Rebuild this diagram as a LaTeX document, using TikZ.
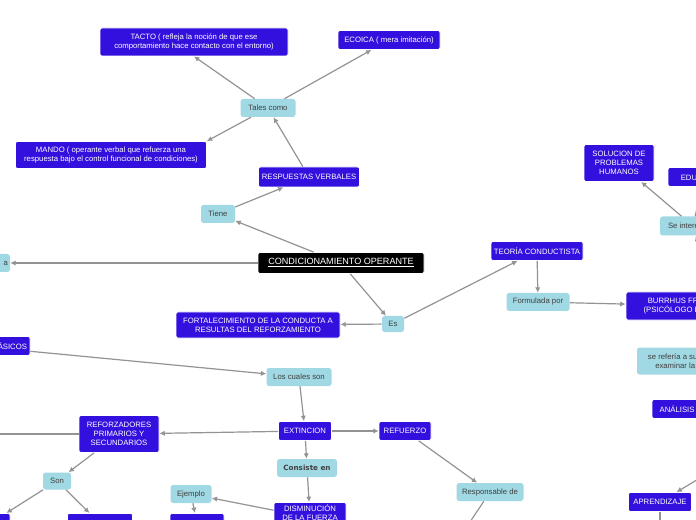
\documentclass[tikz,border=0pt]{standalone}
\usepackage{fontspec}
\setmainfont{Liberation Sans}
\newfontfamily\dvs{DejaVu Sans}
\begin{document}
\begin{tikzpicture}[x=0.75pt,y=-0.75pt,
  dk/.style={draw=white,line width=0.6pt,fill=dkc,text=white,rounded corners=1.5pt,inner sep=0pt,align=center,font=\fontsize{5.8}{6.8}\selectfont},
  lt/.style={fill=ltc,text=black!75,rounded corners=2pt,inner sep=0pt,align=center,font=\fontsize{5.8}{6.8}\selectfont},
  ed/.style={draw=gray!85,line width=0.9pt,-{Latex[length=4pt,width=4pt]}},
  pl/.style={draw=gray!85,line width=0.9pt}]
\usetikzlibrary{arrows.meta}
\definecolor{dkc}{HTML}{3310DD}
\definecolor{ltc}{HTML}{A0D8E3}
\def\u{0.75pt}
\useasboundingbox (0,0) rectangle (696,520);
\clip (0,0) rectangle (696,520);
\fill[white] (0,0) rectangle (696,520);
% nodes
\node[dk,minimum width=188*\u,minimum height=28*\u] (tacto) at (194,42) {TACTO ( refleja la noción de que ese\\comportamiento hace contacto con el entorno)};
\node[dk,minimum width=102*\u,minimum height=19*\u] (ecoica) at (389,40) {ECOICA ( mera imitación)};
\node[lt,minimum width=55*\u,minimum height=18*\u] (tales) at (268,108) {Tales como};
\node[dk,minimum width=191*\u,minimum height=27*\u] (mando) at (111,155) {MANDO ( operante verbal que refuerza una\\respuesta bajo el control funcional de condiciones)};
\node[dk,minimum width=101*\u,minimum height=20*\u] (resp) at (309,177) {RESPUESTAS VERBALES};
\node[lt,minimum width=34*\u,minimum height=18*\u] (tiene) at (218,214) {Tiene};
\node[draw=white,line width=0.6pt,fill=black,text=white,rounded corners=1.5pt,minimum width=166*\u,minimum height=21*\u,inner sep=0pt,font=\fontsize{6.8}{8}\selectfont] (cond) at (341,263) {\underline{CONDICIONAMIENTO OPERANTE}};
\node[lt,minimum width=70*\u,minimum height=18*\u,text width=66*\u,align=right] (leftA) at (-25,263) {a};
\node[dk,minimum width=92*\u,minimum height=19*\u] (teoria) at (537,251) {TEORÍA CONDUCTISTA};
\node[lt,minimum width=63*\u,minimum height=18*\u] (form) at (538,302) {Formulada por};
\node[dk,minimum width=160*\u,minimum height=28*\u] (burr) at (706,306) {BURRHUS FREDERIC SKINNER\\(PSICÓLOGO ESTADOUNIDENSE)};
\node[dk,minimum width=70*\u,minimum height=37*\u] (sol) at (619,163) {SOLUCION DE\\PROBLEMAS\\HUMANOS};
\node[dk,minimum width=72*\u,minimum height=19*\u] (educ) at (704,177) {EDUCACIÓN};
\node[lt,minimum width=66*\u,minimum height=19*\u] (seint) at (693,226) {Se interesó en};
\node[lt,minimum width=110*\u,minimum height=27*\u] (seref) at (692,361) {se refería a su método de\\examinar la conducta};
\node[dk,minimum width=120*\u,minimum height=19*\u] (anal) at (712,409) {ANÁLISIS DE LA CONDUCTA};
\node[dk,minimum width=63*\u,minimum height=19*\u] (apr) at (660,502) {APRENDIZAJE};
\node[dk,minimum width=164*\u,minimum height=26*\u] (fort) at (258,325) {FORTALECIMIENTO DE LA CONDUCTA A\\RESULTAS DEL REFORZAMIENTO};
\node[lt,minimum width=22*\u,minimum height=16*\u] (es) at (393,324) {Es};
\node[dk,minimum width=110*\u,minimum height=19*\u,text width=104*\u,align=right] (basic) at (-25,346) {REFORZADORES BÁSICOS};
\node[lt,minimum width=65*\u,minimum height=18*\u] (loscu) at (299,377) {Los cuales son};
\node[dk,minimum width=53*\u,minimum height=19*\u] (ext) at (305,431) {EXTINCION};
\node[dk,minimum width=52*\u,minimum height=19*\u] (ref) at (405,431) {REFUERZO};
\node[dk,minimum width=80*\u,minimum height=37*\u] (rps) at (119,434) {REFORZADORES\\PRIMARIOS Y\\SECUNDARIOS};
\node[lt,minimum width=60*\u,minimum height=18*\u,font=\dvs\bfseries\fontsize{5.4}{6.4}\selectfont] (cons) at (307,468) {Consiste en};
\node[lt,minimum width=67*\u,minimum height=18*\u] (resp2) at (490,492) {Responsable de};
\node[dk,minimum width=72*\u,minimum height=30*\u,anchor=north] (dism) at (310,502) {DISMINUCIÓN\\DE LA FUERZA\\DE LA RESPUESTA};
\node[lt,minimum width=41*\u,minimum height=18*\u] (ej) at (191,494) {Ejemplo};
\node[lt,minimum width=28*\u,minimum height=17*\u] (son) at (57,481) {Son};
\node[dk,minimum width=65*\u,minimum height=20*\u,anchor=north] (b1) at (100,513) {PRIMARIOS};
\node[dk,minimum width=54*\u,minimum height=20*\u,anchor=north] (b2) at (197,513) {COMIDA};
\node[dk,minimum width=40*\u,minimum height=20*\u,anchor=north] (b0) at (-10,513) {X};
\coordinate (lin) at (-5,434);
\coordinate (rdown) at (468,525);
\coordinate (aprin) at (700,478);
\coordinate (aprout) at (660,530);
\coordinate (analin) at (700,390);
\coordinate (seintin) at (700,250);
% edges
\draw[ed] (tales) -- (tacto.south);
\draw[ed] (tales) -- (ecoica);
\draw[ed] (tales) -- (mando.north east);
\draw[ed] (resp) -- (tales);
\draw[ed] (tiene) -- (resp);
\draw[ed] (cond) -- (tiene);
\draw[ed] (cond) -- (leftA);
\draw[ed] (cond) -- (es);
\draw[ed] (es) -- (teoria);
\draw[ed] (es) -- (fort);
\draw[ed] (teoria) -- (form);
\draw[ed] (form) -- (burr);
\draw[ed] (seint) -- (sol);
\draw[ed] (seint) -- (educ);
\draw[ed] (basic) -- (loscu);
\draw[ed] (loscu) -- (ext);
\draw[ed] (ext) -- (rps);
\draw[ed] (ext) -- (ref);
\draw[ed] (ext) -- (cons);
\draw[ed] (cons) -- (dism);
\draw[ed] (dism) -- (ej);
\draw[ed] (ej) -- (b2);
\draw[ed] (ref) -- (resp2);
\draw[pl] (resp2) -- (rdown);
\draw[ed] (rps) -- (son);
\draw[ed] (son) -- (b0);
\draw[ed] (son) -- (b1);
\draw[pl] (lin) -- (rps);
\draw[ed] (aprin) -- (apr);
\draw[pl] (apr) -- (aprout);
\draw[ed] (analin) -- (anal);
\draw[ed] (seintin) -- (seint);
\end{tikzpicture}
\end{document}
